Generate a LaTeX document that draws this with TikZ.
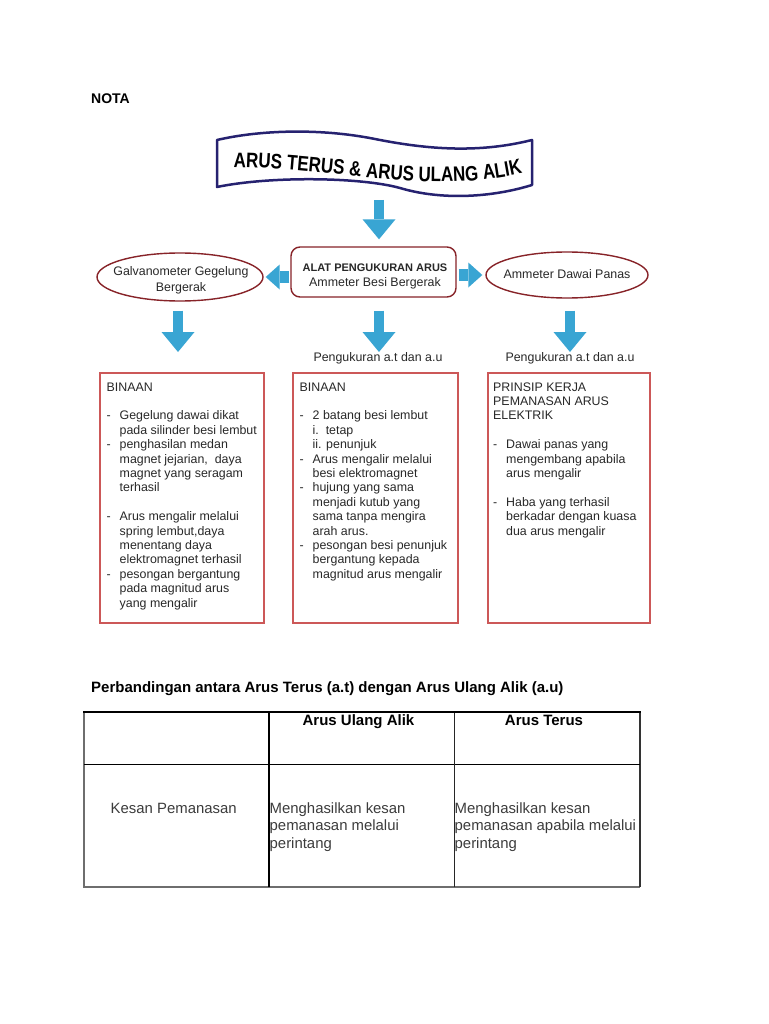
\documentclass[tikz,border=0pt]{standalone}
\usepackage{fontspec}
\setmainfont{Liberation Sans}
\newfontfamily\bannerfam[FakeStretch=0.81]{Liberation Sans}
\usetikzlibrary{shapes.geometric,arrows.meta,decorations.text}
\definecolor{abl}{RGB}{57,165,211}
\definecolor{boxred}{RGB}{204,88,88}
\definecolor{ovred}{RGB}{135,35,40}
\definecolor{bnblue}{RGB}{38,34,112}
\definecolor{txt}{RGB}{40,40,40}
\definecolor{tgray}{RGB}{60,60,60}
\definecolor{lgray}{RGB}{110,110,110}
\newcommand\bannerstyle{\bannerfam\bfseries\fontsize{21}{24}\selectfont}
\newcommand\bulx[1]{\makebox[13pt][l]{-}#1}
\newcommand\indl{\hspace*{13pt}}
\begin{document}
\begin{tikzpicture}[x=1pt,y=-1pt,
  bigarrow/.style={draw=abl, line width=10pt, -{Triangle[width=33pt 0 0,length=20pt 0 0,line width=0pt 0 0]}},
  sidearrow/.style={draw=abl, line width=12pt, -{Triangle[width=25pt 0 0,length=14pt 0 0,line width=0pt 0 0]}},
  oval/.style={ellipse, draw=ovred, line width=1.4pt, inner sep=0pt},
  cbox/.style={rectangle, rounded corners=9pt, draw=ovred, line width=1.4pt, inner sep=0pt},
  rbox/.style={rectangle, draw=boxred, line width=1.7pt, inner sep=0pt, anchor=north west, minimum height=250pt},
  btxt/.style={anchor=north west, align=left, inner sep=0pt, text=txt, font=\fontsize{12.4}{14.4}\selectfont},
  ltxt/.style={anchor=base, inner sep=0pt, text=txt, font=\fontsize{12.4}{15}\selectfont},
  ttxt/.style={anchor=base west, inner sep=0pt, text=tgray, font=\fontsize{14.9}{17.5}\selectfont},
  thead/.style={anchor=base, inner sep=0pt, text=black, font=\bfseries\fontsize{15}{18}\selectfont}
]
\fill[white] (0,0) rectangle (768,1024);
\useasboundingbox (0,0) rectangle (768,1024);

% title NOTA
\node[anchor=base west, inner sep=0pt, font=\bfseries\fontsize{14}{16}\selectfont] (nota) at (91,103.5) {NOTA};

% banner
\draw[draw=bnblue, line width=2.5pt, fill=white, line join=round]
  (217,140) .. controls (260,130) and (320,128) .. (375,139)
  .. controls (430,150) and (480,153) .. (532,140)
  -- (532,185) .. controls (490,198) and (440,200) .. (400,188)
  .. controls (360,177) and (270,176) .. (217,187) -- cycle;
\path[decorate, decoration={text along path, text align=center,
  text={|\bannerstyle|ARUS TERUS {\&} ARUS ULANG ALIK}}]
  (228,167) .. controls (340,168) and (430,196) .. (528,172);
\coordinate (bb) at (379,186);

% central box and ellipses
\node[cbox, minimum width=165pt, minimum height=50pt] (ctr) at (373.5,272) {};
\node[anchor=base, inner sep=0pt, text=txt, font=\bfseries\fontsize{11}{13}\selectfont] (ct1) at (375,271) {ALAT PENGUKURAN ARUS};
\node[ltxt] (ct2) at (375,286.5) {Ammeter Besi Bergerak};

\node[oval, minimum width=166pt, minimum height=48pt] (gal) at (180,277) {};
\node[ltxt] (gt1) at (181,275) {Galvanometer Gegelung};
\node[ltxt] (gt2) at (181,291.5) {Bergerak};

\node[oval, minimum width=162pt, minimum height=46pt] (dp) at (567,275) {};
\node[ltxt] (dt1) at (567,278.5) {Ammeter Dawai Panas};

% red boxes
\node[rbox, minimum width=164pt] (box1) at (99,372) {};
\node[rbox, minimum width=165pt] (box2) at (292,372) {};
\node[rbox, minimum width=162pt] (box3) at (487,372) {};

% arrows
\draw[bigarrow, shorten <=14pt, shorten >=7pt] (bb) -- (bb |- ctr.north);
\draw[sidearrow, shorten <=1pt, shorten >=2pt] (ctr.west |- gal.east) -- (gal.east);
\draw[sidearrow, shorten <=2pt, shorten >=3pt] (ctr.east |- dp.west) -- (dp.west);
\draw[bigarrow, shorten <=9pt, shorten >=20pt] ([xshift=-2pt]gal.south) -- ([xshift=-2pt]gal.south |- box1.north);
\draw[bigarrow, shorten <=13pt, shorten >=20pt] ([xshift=5.5pt]ctr.south) -- ([xshift=5.5pt]ctr.south |- box2.north);
\draw[bigarrow, shorten <=12pt, shorten >=20pt] ([xshift=3pt]dp.south) -- ([xshift=3pt]dp.south |- box3.north);

\node[ltxt] (pk2) at (378,361) {Pengukuran a.t dan a.u};
\node[ltxt] (pk3) at (570,361) {Pengukuran a.t dan a.u};

% box texts
\node[btxt] (b1t) at (106.5,382.3) {BINAAN\\[14.4pt]
\bulx{Gegelung dawai dikat}\\
\indl pada silinder besi lembut\\
\bulx{penghasilan medan}\\
\indl magnet jejarian,\ \ daya\\
\indl magnet yang seragam\\
\indl terhasil\\[14.4pt]
\bulx{Arus mengalir melalui}\\
\indl spring lembut,daya\\
\indl menentang daya\\
\indl elektromagnet terhasil\\
\bulx{pesongan bergantung}\\
\indl pada magnitud arus\\
\indl yang mengalir};

\node[btxt] (b2t) at (299.5,382.3) {BINAAN\\[14.4pt]
\bulx{2 batang besi lembut}\\
\indl i.\ \ tetap\\
\indl ii. penunjuk\\
\bulx{Arus mengalir melalui}\\
\indl besi elektromagnet\\
\bulx{hujung yang sama}\\
\indl menjadi kutub yang\\
\indl sama tanpa mengira\\
\indl arah arus.\\
\bulx{pesongan besi penunjuk}\\
\indl bergantung kepada\\
\indl magnitud arus mengalir};

\node[btxt] (b3t) at (493,382.3) {PRINSIP KERJA\\
PEMANASAN ARUS\\
ELEKTRIK\\[14.4pt]
\bulx{Dawai panas yang}\\
\indl mengembang apabila\\
\indl arus mengalir\\[14.4pt]
\bulx{Haba yang terhasil}\\
\indl berkadar dengan kuasa\\
\indl dua arus mengalir};

% comparison heading
\node[anchor=base west, inner sep=0pt, font=\bfseries\fontsize{15}{18}\selectfont] (ttl) at (91,692) {Perbandingan antara Arus Terus (a.t) dengan Arus Ulang Alik (a.u)};

% table
\draw[lgray, line width=1.3pt] (84,712) -- (84,887) -- (640,887);
\draw[black!80, line width=1.3pt] (640,712) -- (640,887);
\draw[black, line width=1pt] (84,764.5) -- (640,764.5);
\draw[black!85, line width=1pt] (454,712) -- (454,887);
\draw[black, line width=2.2pt] (269,712) -- (269,887);
\draw[black, line width=2.2pt] (83,712) -- (641,712);

\node[thead] (h2) at (358.5,725) {Arus Ulang Alik};
\node[thead] (h3) at (544,725) {Arus Terus};
\node[ttxt, anchor=base] (k1) at (173.7,813) {Kesan Pemanasan};
\node[ttxt] (c2a) at (269.5,813) {Menghasilkan kesan};
\node[ttxt] (c2b) at (269.5,830.5) {pemanasan melalui};
\node[ttxt] (c2c) at (269.5,848) {perintang};
\node[ttxt] (c3a) at (454.5,813) {Menghasilkan kesan};
\node[ttxt] (c3b) at (454.5,830.5) {pemanasan apabila melalui};
\node[ttxt] (c3c) at (454.5,848) {perintang};
\end{tikzpicture}
\end{document}
